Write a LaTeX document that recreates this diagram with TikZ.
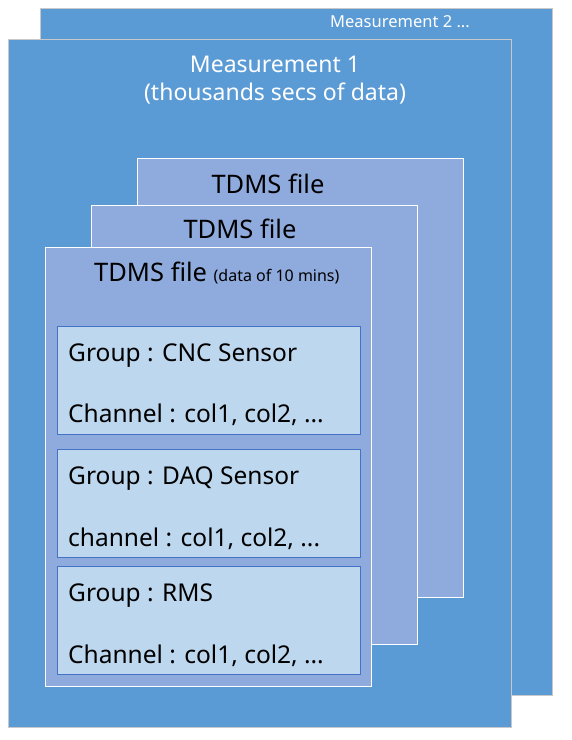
\documentclass[tikz,border=0pt]{standalone}
\usepackage{fontspec}
\setmainfont{Noto Sans}
\usetikzlibrary{positioning}
\definecolor{measblue}{HTML}{5B9BD5}
\definecolor{measline}{HTML}{C8C8C8}
\definecolor{filefill}{HTML}{8FAADC}
\definecolor{groupfill}{HTML}{BDD7EE}
\definecolor{groupline}{HTML}{4472C4}
\begin{document}
\begin{tikzpicture}[x=1pt, y=-1pt,
    measbox/.style={draw=measline, fill=measblue, anchor=north west, inner sep=0pt},
    filebox/.style={draw=white, line width=1pt, fill=filefill, anchor=north west, inner sep=0pt, minimum width=326pt, minimum height=439pt},
    groupbox/.style={draw=groupline, fill=groupfill, anchor=north west, inner sep=0pt, minimum width=303pt, minimum height=108pt},
    grouptext/.style={anchor=west, inner sep=0pt, font=\fontsize{24.5}{28}\selectfont}]
  \useasboundingbox (0,0) rectangle (572,740);
  \node[measbox, minimum width=512pt, minimum height=687pt] (meas2) at (40,8) {};
  \node[text=white, font=\fontsize{16.5}{18}\selectfont] (meas2title) at (400,22) {Measurement 2 ...};
  \node[measbox, minimum width=503pt, minimum height=688pt] (meas1) at (8,39) {};
  \node[text=white, align=center, font=\fontsize{23}{28}\selectfont] (meas1title) at (275,80) {Measurement 1\\(thousands secs of data)};
  \node[filebox] (file3) at (137,158) {};
  \node[font=\fontsize{25.5}{28}\selectfont] (file3title) at (268,184) {TDMS file};
  \node[filebox] (file2) at (91,205) {};
  \node[font=\fontsize{25.5}{28}\selectfont] (file2title) at (240,229) {TDMS file};
  \node[filebox] (file1) at (45,247) {};
  \node[font=\fontsize{25.5}{28}\selectfont, anchor=west, inner sep=0pt] (file1title) at (94,273) {TDMS file {\fontsize{16}{18}\selectfont(data of 10 mins)}};
  \node[groupbox] (cnc) at (57,326) {};
  \node[grouptext] (cncgroup) at (68,356) {Group : CNC Sensor};
  \node[grouptext] (cncchannel) at (68,415) {Channel : col1, col2, ...};
  \node[groupbox] (daq) at (57,449) {};
  \node[grouptext] (daqgroup) at (68,479) {Group : DAQ Sensor};
  \node[grouptext] (daqchannel) at (68,539) {channel : col1, col2, ...};
  \node[groupbox] (rms) at (57,566) {};
  \node[grouptext] (rmsgroup) at (68,596) {Group : RMS};
  \node[grouptext] (rmschannel) at (68,656) {Channel : col1, col2, ...};
\end{tikzpicture}
\end{document}
